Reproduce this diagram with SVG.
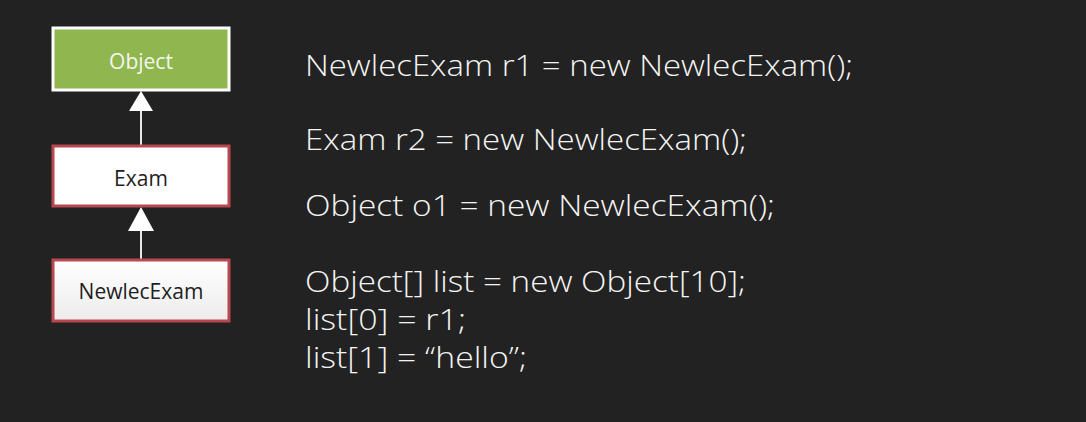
<svg xmlns="http://www.w3.org/2000/svg" width="1086" height="422" viewBox="0 0 1086 422">
<defs>
<linearGradient id="g3" x1="0" y1="0" x2="0" y2="1"><stop offset="0" stop-color="#ffffff"/><stop offset="1" stop-color="#ececec"/></linearGradient>
<style>
.lbl{font-family:"Open Sans","Noto Sans",sans-serif;font-size:21px;text-anchor:middle}
.code{font-family:"Open Sans","Noto Sans",sans-serif;font-size:29px;font-weight:300;fill:#f4f4f4}
.red{stroke:#b8484d;stroke-width:3}
.conn line{stroke:#e8e8e8;stroke-width:2}
.conn polygon{fill:#ffffff}
</style>
</defs>
<rect width="1086" height="422" fill="#222222"/>
<g id="connectors" class="conn">
<line x1="141" y1="110" x2="141" y2="145"/>
<polygon points="141,91 129,111 153,111"/>
<line x1="141" y1="230" x2="141" y2="259"/>
<polygon points="141,207 128,231 154,231"/>
</g>
<g id="node-object">
<rect x="53" y="28" width="176" height="62" fill="#8fb64f" stroke="#ffffff" stroke-width="3"/>
<text class="lbl" x="141" y="68.5" fill="#f4f7ee">Object</text>
</g>
<g id="node-exam">
<rect x="53" y="146" width="176" height="60" fill="#ffffff" class="red"/>
<text class="lbl" x="141" y="185.5" fill="#1e1e1e">Exam</text>
</g>
<g id="node-newlecexam">
<rect x="53" y="260" width="176" height="61" fill="url(#g3)" class="red"/>
<text class="lbl" x="141" y="299" fill="#1e1e1e">NewlecExam</text>
</g>
<g id="code">
<text class="code" x="305" y="76" textLength="548" lengthAdjust="spacingAndGlyphs">NewlecExam r1 = new NewlecExam();</text>
<text class="code" x="305" y="150" textLength="442" lengthAdjust="spacingAndGlyphs">Exam r2 = new NewlecExam();</text>
<text class="code" x="305" y="216" textLength="470" lengthAdjust="spacingAndGlyphs">Object o1 = new NewlecExam();</text>
<text class="code" x="305" y="292" textLength="441" lengthAdjust="spacingAndGlyphs">Object[] list = new Object[10];</text>
<text class="code" x="305" y="330" textLength="161" lengthAdjust="spacingAndGlyphs">list[0] = r1;</text>
<text class="code" x="305" y="368" textLength="222" lengthAdjust="spacingAndGlyphs">list[1] = “hello”;</text>
</g>
</svg>
